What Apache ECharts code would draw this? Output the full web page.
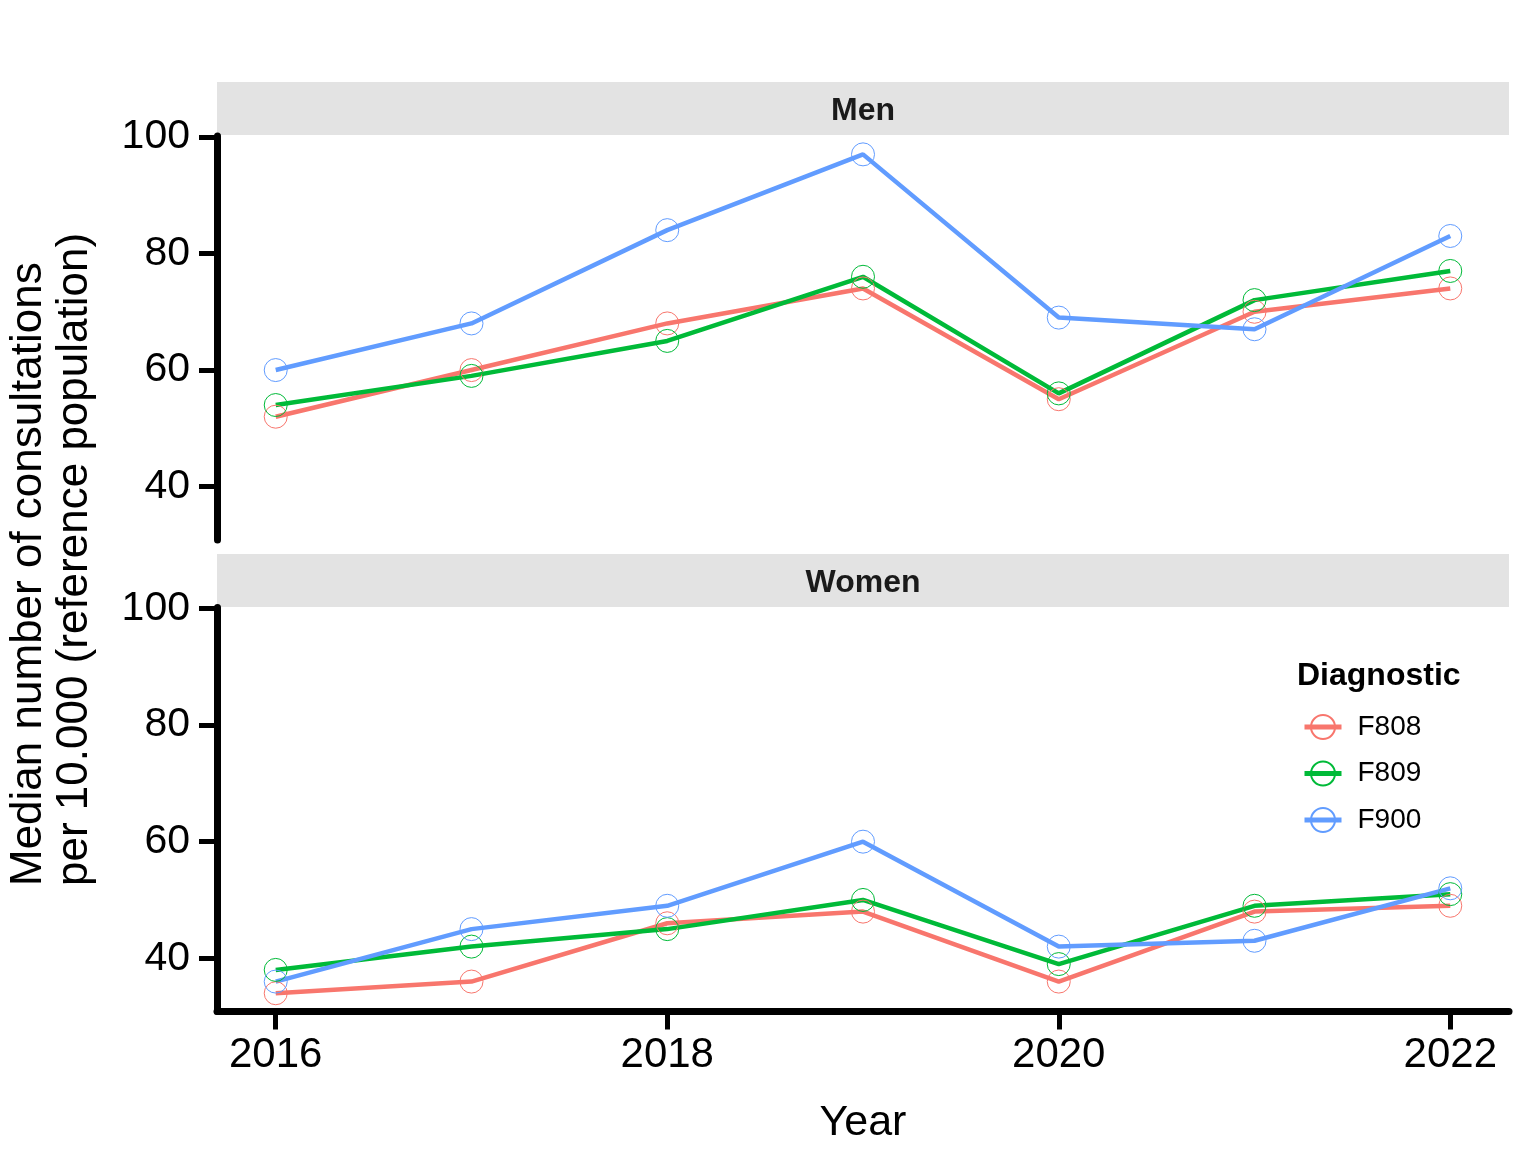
<!DOCTYPE html>
<html><head><meta charset="utf-8">
<script src="https://cdn.jsdelivr.net/npm/echarts@6/dist/echarts.min.js"></script>
<style>html,body{margin:0;padding:0;background:#fff}#c{width:1536px;height:1152px}</style>
</head><body><div id="c"></div>
<script>
// ---- data ----
const years = [2016, 2017, 2018, 2019, 2020, 2021, 2022];
const diagnostics = ['F808', 'F809', 'F900'];
const panels = ['Men', 'Women'];
const menF808 = [52, 60, 68, 74, 55, 70, 74];
const menF809 = [54, 59, 65, 76, 56, 72, 77];
const menF900 = [60, 68, 84, 97, 69, 67, 83];
const womenF808 = [34, 36, 46, 48, 36, 48, 49];
const womenF809 = [38, 42, 45, 50, 39, 49, 51];
const womenF900 = [36, 45, 49, 60, 42, 43, 52];
const yTicks = [40, 60, 80, 100];
const xTicks = [2016, 2018, 2020, 2022];
const yTitle = 'Median number of consultations\nper 10.000 (reference population)';
const xTitle = 'Year';
const legendTitle = 'Diagnostic';

// ---- styling ----
const colors = ['#F8766D', '#00BA38', '#619CFF'];
const FONT = 'Liberation Sans, Arial, sans-serif';
const panelData = [[menF808, menF809, menF900], [womenF808, womenF809, womenF900]];

const grids = [
  { left: 217, top: 136, width: 1292, height: 404 },
  { left: 217, top: 607.6, width: 1292, height: 404 }
];

const xAxes = grids.map((g, i) => ({
  type: 'value', gridIndex: i, min: 2015.7, max: 2022.3,
  splitLine: { show: false },
  axisLine: { show: i === 1, lineStyle: { color: '#000', width: 7 } },
  axisTick: { show: i === 1, customValues: xTicks, length: 18, lineStyle: { color: '#000', width: 5 } },
  axisLabel: { show: i === 1, customValues: xTicks, margin: 23, color: '#000', fontSize: 42, fontFamily: FONT,
    formatter: v => String(v) }
}));

const yAxes = grids.map((g, i) => ({
  type: 'value', gridIndex: i, min: 30.85, max: 100.15,
  splitLine: { show: false },
  axisLine: { show: true, lineStyle: { color: '#000', width: 7 } },
  axisTick: { show: true, customValues: yTicks, length: 18, lineStyle: { color: '#000', width: 5 } },
  axisLabel: { show: true, customValues: yTicks, margin: 27, color: '#000', fontSize: 41, fontFamily: FONT }
}));

const series = [];
panels.forEach((p, pi) => {
  diagnostics.forEach((d, di) => {
    series.push({
      name: d, type: 'line', xAxisIndex: pi, yAxisIndex: pi,
      data: years.map((y, k) => [y, panelData[pi][di][k]]),
      symbol: 'circle', symbolSize: 23,
      lineStyle: { color: colors[di], width: 4.5 },
      itemStyle: { color: 'rgba(0,0,0,0)', borderColor: colors[di], borderWidth: 1 },
      emphasis: { disabled: true },
      animation: false
    });
  });
});

const strips = [{ y: 82, label: panels[0] }, { y: 554, label: panels[1] }];
const graphic = [];
strips.forEach(s => {
  graphic.push({ type: 'rect', shape: { x: 217, y: s.y, width: 1292, height: 53 }, style: { fill: '#e3e3e3' }, z: 0 });
  graphic.push({ type: 'text', x: 863, y: s.y + 29.5, style: { text: s.label, fontSize: 32, fontWeight: 'bold', fontFamily: FONT,
    fill: '#1a1a1a', align: 'center', verticalAlign: 'middle', textAlign: 'center', textVerticalAlign: 'middle' } });
});
graphic.push({ type: 'text', x: 863, y: 1123, style: { text: xTitle, fontSize: 43, fontFamily: FONT, fill: '#000',
  align: 'center', verticalAlign: 'middle', textAlign: 'center', textVerticalAlign: 'middle' } });
graphic.push({ type: 'text', x: 6, y: 886, rotation: Math.PI / 2, style: { text: yTitle, fontSize: 44, lineHeight: 46, fontFamily: FONT,
  fill: '#000', align: 'left', verticalAlign: 'top', textAlign: 'left', textVerticalAlign: 'top' } });
graphic.push({ type: 'text', x: 1297, y: 676, style: { text: legendTitle, fontSize: 32, fontWeight: 'bold', fontFamily: FONT,
  fill: '#000', align: 'left', verticalAlign: 'middle', textAlign: 'left', textVerticalAlign: 'middle' } });

const chart = echarts.init(document.getElementById('c'), null, { renderer: 'canvas' });
chart.setOption({
  backgroundColor: '#fff',
  animation: false,
  grid: grids,
  xAxis: xAxes,
  yAxis: yAxes,
  series: series,
  legend: {
    data: diagnostics, orient: 'vertical', left: 1302, top: 713,
    itemWidth: 37, itemHeight: 30, itemGap: 18.5, padding: 0,
    selectedMode: false,
    lineStyle: { width: 5 },
    textStyle: { fontSize: 28, fontFamily: FONT, color: '#000', padding: [0, 0, 0, 11] }
  },
  graphic: graphic
});
</script></body></html>
